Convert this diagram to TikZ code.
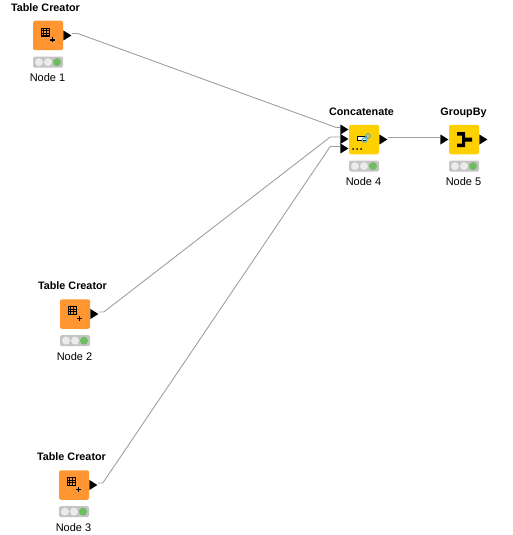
\documentclass[tikz,border=0pt]{standalone}
\usepackage{fontspec}
\setmainfont{Liberation Sans}
\usetikzlibrary{calc,positioning,shapes.geometric}
\definecolor{srcorange}{HTML}{FF9632}
\definecolor{mgyellow}{HTML}{FFD000}
\definecolor{lightbar}{HTML}{C4C4C4}
\definecolor{lightoff}{HTML}{EBEBEB}
\definecolor{lighton}{HTML}{6DBE5F}
\definecolor{wiregray}{HTML}{A0A0A0}
\definecolor{ringblue}{HTML}{5FB6C8}
\tikzset{
  knode/.style={minimum width=30pt,minimum height=29.5pt,inner sep=0pt,rounded corners=2pt},
  port/.style={isosceles triangle,isosceles triangle apex angle=60,fill=black,inner sep=0pt,
    minimum height=8pt,minimum width=10pt,isosceles triangle stretches},
  lights/.style={fill=lightbar,minimum width=30pt,minimum height=11pt,inner sep=0pt,rounded corners=2pt},
  nodetitle/.style={font=\bfseries\fontsize{10.8}{12}\selectfont,inner sep=0pt,text height=8pt,text depth=0pt},
  nodename/.style={font=\fontsize{11}{12}\selectfont,inner sep=0pt,text height=8pt,text depth=0pt},
  wire/.style={draw=wiregray,line width=0.9pt},
}
\begin{document}
\begin{tikzpicture}[x=1pt,y=-1pt]
  \useasboundingbox (0,0) rectangle (512,535);
  % the workflow nodes
  \foreach \n/\x/\y/\col/\ttl/\tx/\lbl in {a/48/35.5/srcorange/Table Creator/-2.5/Node 1,
      b/75/314/srcorange/Table Creator/-2.5/Node 2,
      c/74/485/srcorange/Table Creator/-2.5/Node 3,
      d/364/139.5/mgyellow/Concatenate/-2.5/Node 4,
      e/464/139.5/mgyellow/GroupBy/-0.5/Node 5} {
    \node[knode,fill=\col] (\n) at (\x,\y) {};
    \node[nodetitle,above=9pt of \n,xshift=\tx pt] (\n t) {\ttl};
    \node[lights,below=6pt of \n] (\n l) {};
    \node[nodename,below=5.5pt of \n l,xshift=-0.5pt] (\n n) {\lbl};
    \fill[lightoff] ($(\n l)+(-9,0)$) circle (4);
    \fill[lightoff] ($(\n l)+(0,0)$) circle (4);
    \fill[lighton] ($(\n l)+(9,0)$) circle (4);
    \node[port,anchor=west] (\n o) at (\n.east) {};
  }
  % input ports
  \node[port,anchor=apex] (d1) at ($(d.west)+(0,-10)$) {};
  \node[port,anchor=apex] (d2) at ($(d.west)+(0,-0.5)$) {};
  \node[port,anchor=apex] (d3) at ($(d.west)+(0,9)$) {};
  \node[port,anchor=apex] (e1) at (e.west) {};
  % table icons
  \foreach \n in {a,b,c} {
    \draw[line width=0.6pt,shift={($(\n)+(-7,-7.5)$)},x=1pt,y=-1pt] (0,0) grid[step=2.6pt] (8,8) rectangle (0,0);
    \draw[line width=1.4pt] ($(\n)+(2,4.5)$) -- ++(5,0) ($(\n)+(4.5,2)$) -- ++(0,5);
  }
  % concatenate icon
  \draw[line width=0.8pt,fill=white] ($(d)+(-7,-3.5)$) rectangle ($(d)+(2,0.5)$);
  \draw[ringblue,line width=1.2pt] ($(d)+(4,-3.5)$) circle (2.2) ($(d)+(0.5,0.5)$) circle (2.2);
  \foreach \dx in {-11,-7,-3} \fill ($(d)+(\dx,9.5)$) circle (1);
  % groupby icon
  \fill ($(e)+(-7,-7.5)$) -- ++(8,0) -- ++(0,5.5) -- ++(7,0) -- ++(0,4) -- ++(-7,0)
    -- ++(0,5.5) -- ++(-8,0) -- ++(0,-3.5) -- ++(5,0) -- ++(0,-8) -- ++(-5,0) -- cycle;
  % connections
  \draw[wire] ($(ao.east)+(0,-2)$) -- ++(6,0) -- ($(d1.west)+(-4,-2)$) -- ($(d1.west)+(0,-2)$);
  \draw[wire] ($(bo.east)+(0,-2)$) -- ++(5,0) -- ($(d2.west)+(-10,-2)$) -- ($(d2.west)+(0,-2)$);
  \draw[wire] ($(co.east)+(0,-2)$) -- ++(5,0) -- ($(d3.west)+(-10,-2)$) -- ($(d3.west)+(0,-2)$);
  \draw[wire] ($(do.east)+(0,-2)$) -- ($(e1.west)+(0,-2)$);
\end{tikzpicture}
\end{document}
